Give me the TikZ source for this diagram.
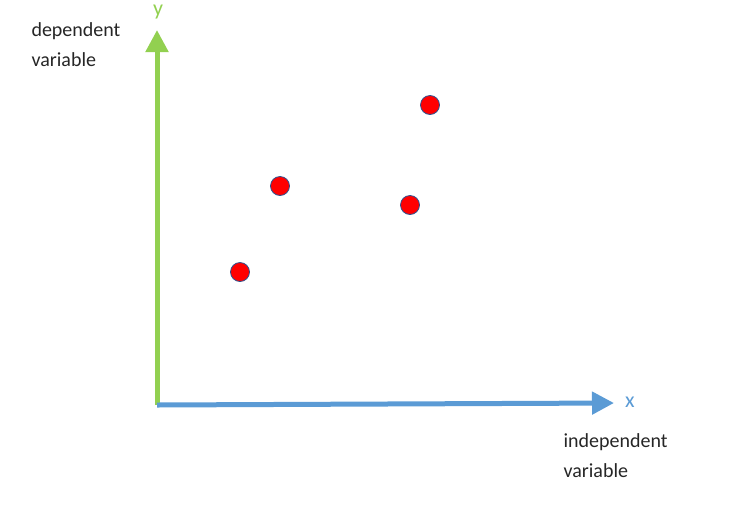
\documentclass[tikz,border=0pt]{standalone}
\usepackage{fontspec}
\setmainfont{Carlito}
\usetikzlibrary{arrows.meta}
\definecolor{ygreen}{HTML}{92D050}
\definecolor{xblue}{HTML}{5B9BD5}
\definecolor{dotred}{HTML}{FF0000}
\definecolor{dotedge}{HTML}{2F528F}
\tikzset{
  axis/.style={line width=5pt,-{Triangle[length=22pt,width=22pt]}},
  pt/.style={circle,fill=dotred,draw=dotedge,line width=0.8pt,minimum size=19pt,inner sep=0pt},
  lbl/.style={font=\fontsize{20}{30}\selectfont,align=left,anchor=west,text=black!85}
}
\begin{document}
\begin{tikzpicture}[x=1pt,y=-1pt]
\useasboundingbox (0,0) rectangle (741,515);
\coordinate (o) at (157,405);
\coordinate (ytop) at (157,30);
\coordinate (xend) at (614,403);
\draw[axis,draw=ygreen,fill=ygreen] (o) -- (ytop);
\draw[axis,draw=xblue,fill=xblue] (o) -- (xend);
\node[text=ygreen,font=\fontsize{22}{26}\selectfont] (ylab) at (158,12) {y};
\node[text=xblue,font=\fontsize{22}{26}\selectfont] (xlab) at (630,402) {x};
\node[lbl] (dep) at (28,45) {dependent\\variable};
\node[lbl] (indep) at (560,456) {independent\\variable};
\node[pt] (p1) at (240,272) {};
\node[pt] (p2) at (280,186) {};
\node[pt] (p3) at (410,205) {};
\node[pt] (p4) at (430,105) {};
\end{tikzpicture}
\end{document}
